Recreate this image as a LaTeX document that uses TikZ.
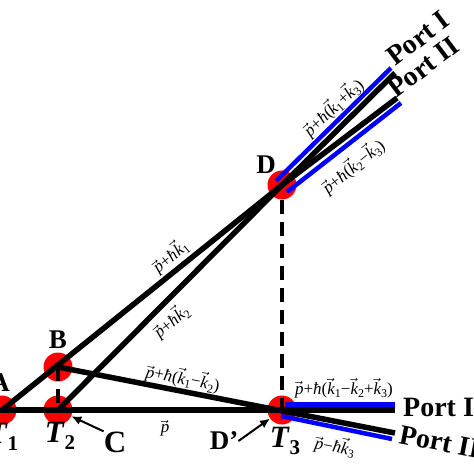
\documentclass[tikz,border=0pt]{standalone}
\usepackage{mathptmx}
\usepackage{fontspec}
\setmainfont{Liberation Serif}
\usetikzlibrary{arrows.meta}
\begin{document}
\begin{tikzpicture}[x=1pt,y=-1pt,
  beam/.style={line width=5.5pt},
  bl/.style={line width=4.5pt, draw=blue},
  dsh/.style={line width=4pt, dash pattern=on 14pt off 8pt},
  atom/.style={circle, fill=red, minimum size=29pt, inner sep=0pt},
  lbl/.style={font=\fontsize{27}{27}\selectfont\bfseries, inner sep=0pt},
  tl/.style={font=\fontsize{31}{31}\selectfont\bfseries, inner sep=0pt},
  port/.style={font=\fontsize{28}{28}\selectfont\bfseries, inner sep=0pt, anchor=base west},
  ml/.style={font=\fontsize{17}{17}\selectfont, inner sep=0pt},
  ptr/.style={line width=2pt, -{Latex[length=10pt,width=9pt]}}]
\useasboundingbox (0,0) rectangle (474,474);
\newcommand{\tsub}[2]{\textit{#1}\raisebox{-7pt}{\fontsize{21}{21}\selectfont\bfseries #2}}
\newcommand{\vv}[1]{\ensuremath{\vec{\mbox{\itshape #1}}}}
\newcommand{\kk}[1]{\vv{k}\raisebox{-3pt}{\fontsize{12}{12}\selectfont #1}}
\newcommand{\hb}{\textit{ħ}}
% atoms
\node[atom] (A) at (2,410) {};
\node[atom] (B) at (58,367) {};
\node[atom] (C) at (58,410) {};
\node[atom] (D) at (282,185) {};
\node[atom] (Dp) at (282,410) {};
% free ends
\coordinate (L0) at (0,410);
\coordinate (H1) at (395,410);
\coordinate (E1) at (395,73);
\coordinate (E2) at (397,98);
\coordinate (E3) at (395,433);
\coordinate (U1s) at (276,181);
\coordinate (U1e) at (391,68);
\coordinate (U2s) at (287,192);
\coordinate (U2e) at (401,103);
\coordinate (U3s) at (285,404.5);
\coordinate (U3e) at (395,404.5);
\coordinate (U4s) at (281,416);
\coordinate (U4e) at (392,439);
% blue lines
\draw[bl] (U1s) -- (U1e);
\draw[bl] (U2s) -- (U2e);
\draw[bl] (U3s) -- (U3e);
\draw[bl] (U4s) -- (U4e);
% black beams
\draw[beam] (L0) -- (H1);
\draw[beam] (A.center) -- (D.center) -- (E2);
\draw[beam] (C.center) -- (D.center) -- (E1);
\draw[beam] (B.center) -- (E3);
% dashed
\draw[dsh] (B.center) -- (C.center);
\draw[dsh] (D.south) -- (Dp.center);
% letter labels
\node[lbl] (lA) at (0,383) {A};
\node[lbl] (lB) at (58,340) {B};
\node[lbl] (lD) at (266,165) {D};
\node[tl] (lC) at (115,442) {C};
\node[lbl] (lDp) at (224,441) {D'};
\node[tl] (lT1) at (3,437) {\tsub{T}{1}};
\node[tl] (lT2) at (60,436) {\tsub{T}{2}};
\node[tl] (lT3) at (285,441) {\tsub{T}{3}};
\draw[ptr] (lC.north west) -- (C);
\draw[ptr] (lDp.east) -- (Dp);
% ports
\node[port] (pI) at (403,416) {Port I};
\node[port, rotate=-11] (pII) at (398,443) {Port II};
\node[port, rotate=37] (qI) at (395,67) {Port I};
\node[port, rotate=37] (qII) at (396,99) {Port II};
% momentum labels
\node[ml, rotate=39] (m1) at (170,256) {\vv{p}+\hb\kk{1}};
\node[ml, rotate=40] (m2) at (171,321) {\vv{p}+\hb\kk{2}};
\node[ml, rotate=-11] (m3) at (183,378) {\vv{p}+\hb(\kk{1}−\kk{2})};
\node[ml] (m4) at (165,428) {\vv{p}};
\node[ml] (m5) at (344,388) {\vv{p}+\hb(\kk{1}−\kk{2}+\kk{3})};
\node[ml, rotate=-11] (m6) at (335,446) {\vv{p}−\hb\kk{3}};
\node[ml, rotate=43] (m7) at (333,107) {\vv{p}+\hb(\kk{1}+\kk{3})};
\node[ml, rotate=39] (m8) at (353,166) {\vv{p}+\hb(\kk{2}−\kk{3})};
\end{tikzpicture}
\end{document}
